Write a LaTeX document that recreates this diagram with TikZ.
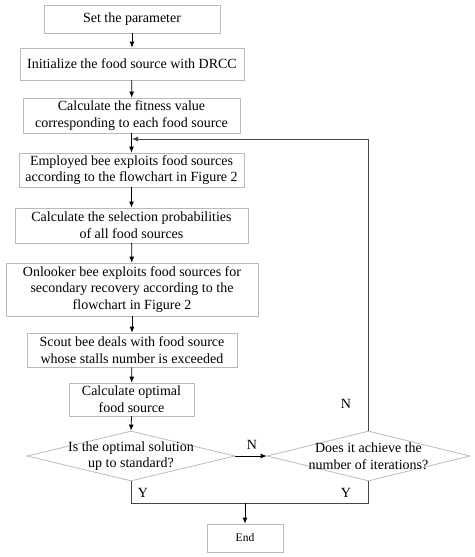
\documentclass[tikz,border=0pt]{standalone}
\usepackage{fontspec}
\setmainfont{Liberation Serif}
\usetikzlibrary{shapes.geometric,arrows.meta}
\definecolor{boxgray}{RGB}{185,185,185}
\definecolor{linegray}{RGB}{70,70,70}
\tikzset{
  stepbox/.style={draw=boxgray,line width=0.8pt,inner sep=0pt,align=center,
    font=\fontsize{14}{16.7}\selectfont},
  decision/.style={draw=boxgray,line width=0.8pt,diamond,inner sep=0pt},
  dtext/.style={align=center,inner sep=0pt,font=\fontsize{14}{16.7}\selectfont},
  arr/.style={line width=0.8pt,-{Latex[length=6pt,width=5pt]}},
  conn/.style={line width=0.9pt,draw=linegray},
  lbl/.style={font=\fontsize{14}{16.7}\selectfont,inner sep=0pt}
}
\begin{document}
\begin{tikzpicture}[x=1pt,y=-1pt]
\useasboundingbox (0,0) rectangle (474,557);
\node[stepbox,minimum width=176pt,minimum height=28pt] (b1) at (132,19) {Set the parameter};
\node[stepbox,minimum width=224pt,minimum height=32pt] (b2) at (132,64) {Initialize the food source with DRCC};
\node[stepbox,minimum width=217pt,minimum height=35pt] (b3) at (131.5,115.5) {Calculate the fitness value\\corresponding to each food source};
\node[stepbox,minimum width=225pt,minimum height=34pt] (b4) at (131.5,170) {Employed bee exploits food sources\\according to the flowchart in Figure 2};
\node[stepbox,minimum width=233pt,minimum height=35pt] (b5) at (131.5,225.5) {Calculate the selection probabilities\\of all food sources};
\node[stepbox,minimum width=252pt,minimum height=53pt] (b6) at (132,289.5) {Onlooker bee exploits food sources for\\secondary recovery according to the\\flowchart in Figure 2};
\node[stepbox,minimum width=210pt,minimum height=34pt] (b7) at (132,350) {Scout bee deals with food source\\whose stalls number is exceeded};
\node[stepbox,minimum width=125pt,minimum height=33pt] (b8) at (131.5,399.5) {Calculate optimal\\food source};
\node[decision,minimum width=208pt,minimum height=50pt] (d1) at (131,456) {};
\node[dtext] (d1t) at (131,456) {Is the optimal solution\\up to standard?};
\node[decision,minimum width=203pt,minimum height=50pt] (d2) at (368.5,456) {};
\node[dtext] (d2t) at (368.5,456) {Does it achieve the\\number of iterations?};
\node[stepbox,minimum width=76pt,minimum height=28pt,font=\fontsize{11.5}{14}\selectfont] (e) at (245,538) {End};

\draw[arr] (b1) -- (b2);
\draw[arr] (b2) -- (b3);
\draw[arr] (b3.south -| b4.north) -- (b4.north);
\draw[arr] (b4) -- (b5);
\draw[arr] (b5) -- (b6);
\draw[arr] (b6) -- (b7);
\draw[arr] (b7) -- (b8);
\draw[arr] (b8.south) -- (d1.north);
\draw[arr] (d1.east) -- (d2.west);
\coordinate (loopc) at (d2.north |- 0,139);
\coordinate (loopend) at (132,139);
\draw[conn] (d2.north) -- (loopc);
\draw[arr,draw=linegray] (loopc) -- (loopend);
\coordinate (ybase) at (0,503);
\draw[conn] (d1.south) -- (d1.south |- ybase) -- (d2.south |- ybase) -- (d2.south);
\draw[arr] (e.north |- ybase) -- (e.north);

\node[lbl] (n1) at (252,445) {N};
\node[lbl] (n2) at (346,404) {N};
\node[lbl] (y1) at (143,493) {Y};
\node[lbl] (y2) at (346,493) {Y};
\end{tikzpicture}
\end{document}
